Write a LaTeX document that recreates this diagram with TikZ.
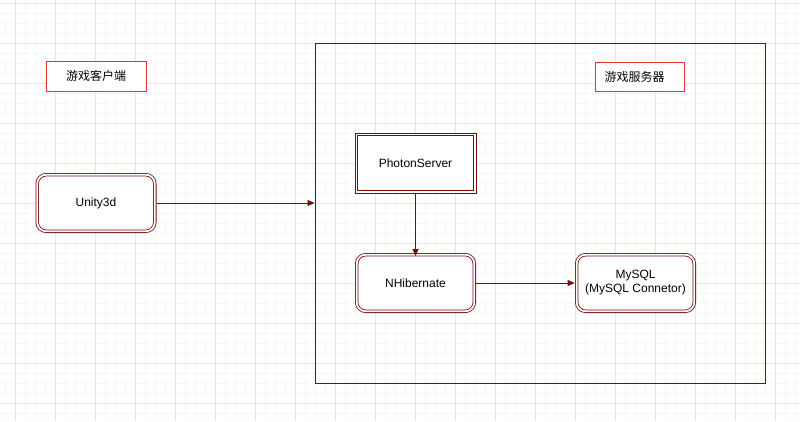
\documentclass[tikz,border=0pt]{standalone}
\usepackage{fontspec}
\setmainfont{Liberation Sans}
\newfontfamily\cjk{Noto Sans CJK SC}
\usetikzlibrary{arrows.meta}
\definecolor{dred}{RGB}{122,10,10}
\definecolor{lred}{RGB}{235,50,50}
\definecolor{gmin}{RGB}{246,246,246}
\definecolor{gmaj}{RGB}{228,228,228}
\tikzset{
  dbl/.style={draw=dred, line width=0.8pt, double=white, double distance=1.8pt,
    minimum width=117.6pt, minimum height=56.6pt, inner sep=0pt, fill=white,
    font=\fontsize{12pt}{14pt}\selectfont, align=center},
  rbox/.style={dbl, rounded corners=9pt},
  sqbox/.style={draw=dred, line width=0.8pt, minimum width=121pt, minimum height=60pt,
    inner sep=0pt, fill=white, font=\fontsize{12pt}{14pt}\selectfont, align=center},
  innerline/.style={draw=dred, line width=0.8pt},
  lbl/.style={draw=lred, line width=0.8pt, fill=white, inner sep=0pt},
  conn/.style={draw=dred, line width=0.8pt, -{Triangle[length=7pt,width=6pt]}},
  cjktext/.style={font=\cjk\fontsize{12pt}{14pt}\selectfont}
}
\begin{document}
\begin{tikzpicture}[x=1pt,y=-1pt]
\useasboundingbox (0,0) rectangle (800,421);
\fill[white] (0,0) rectangle (800,421);
% minor grid
\foreach \i in {0,...,79} {\draw[gmin, line width=0.8pt] (5+10*\i,0) -- (5+10*\i,421);}
\foreach \j in {0,...,41} {\draw[gmin, line width=0.8pt] (0,3+10*\j) -- (800,3+10*\j);}
% major grid
\foreach \i in {0,...,19} {\draw[gmaj, line width=0.9pt] (15+40*\i,0) -- (15+40*\i,421);}
\foreach \j in {0,...,10} {\draw[gmaj, line width=0.9pt] (0,3+40*\j) -- (800,3+40*\j);}
% container
\node[draw=dred, line width=1pt, minimum width=450pt, minimum height=340pt, inner sep=0pt] (server) at (540,213) {};
% labels
\node[lbl, minimum width=100pt, minimum height=30pt, cjktext] (client) at (96,76) {游戏客户端};
\node[lbl, minimum width=89pt, minimum height=29pt] (srvlbl) at (639.5,76.5) {};
\node[cjktext, inner sep=0pt] (srvtext) at (634.5,76.5) {游戏服务器};
% nodes
\node[rbox] (unity) at (96,203) {Unity3d};
\node[sqbox] (photon) at (415.5,163) {PhotonServer};
\draw[innerline] ([shift={(3,3)}]photon.north west) rectangle ([shift={(-3,-3)}]photon.south east);
\node[rbox] (nhib) at (415.5,283) {NHibernate};
\node[rbox] (mysql) at (635.5,283) {MySQL\\(MySQL Connetor)};
% connectors
\draw[conn] ([xshift=1.7]unity.east) -- (server.west |- unity.east);
\draw[conn] (photon.south) -- ([yshift=-1.7]nhib.north);
\draw[conn] ([xshift=1.7]nhib.east) -- ([xshift=-1.7]mysql.west);
\end{tikzpicture}
\end{document}
